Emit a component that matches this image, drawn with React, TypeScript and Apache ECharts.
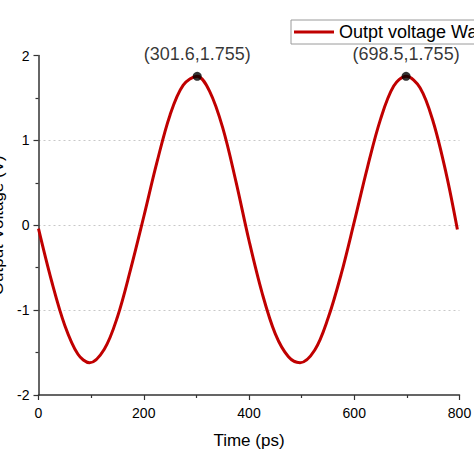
import React, { useEffect, useRef } from "react";
import * as echarts from "echarts";

// Sampled waveform: time (ps) and output voltage (V)
const timePs = [
  0, 25, 50, 75, 97, 125, 150, 175, 200, 225, 250, 275, 301.6, 325, 350, 375,
  400, 425, 450, 475, 497, 525, 550, 575, 600, 625, 650, 675, 698.5, 725, 750,
  775, 796,
];
const voltage = [
  -0.04, -0.66, -1.18, -1.52, -1.62, -1.46, -1.08, -0.52, 0.1, 0.74, 1.3, 1.65,
  1.755, 1.58, 1.15, 0.52, -0.18, -0.8, -1.28, -1.55, -1.62, -1.47, -1.1, -0.58,
  0.04, 0.68, 1.25, 1.64, 1.755, 1.62, 1.22, 0.6, -0.05,
];

// Marked peaks
const peakTimes = [301.6, 698.5];
const peakValues = [1.755, 1.755];

const xTicks = { min: 0, max: 800, interval: 200 };
const yTicks = { min: -2, max: 2, interval: 1 };

const seriesName = "Outpt voltage Waveform";
const xName = "Time (ps)";
const yName = "Output Voltage (V)";

const FONT = "Liberation Sans, Arial, sans-serif";
const INK = "#000";

export default function App() {
  const ref = useRef<HTMLDivElement>(null);

  useEffect(() => {
    if (!ref.current) return;
    const chart = echarts.init(ref.current, undefined, { renderer: "svg" });
    const lineData = timePs.map((t, i) => [t, voltage[i]]);
    const peakData = peakTimes.map((t, i) => [t, peakValues[i]]);

    const axisCommon = {
      axisLine: { show: true, onZero: false, lineStyle: { color: "#333", width: 1.5 } },
      axisTick: { show: true, inside: false, length: 5, lineStyle: { color: "#333", width: 1.2 } },
      minorTick: { show: true, splitNumber: 2, length: 3, lineStyle: { color: "#333", width: 1.2 } },
      axisLabel: { color: INK, fontFamily: FONT, fontSize: 14 },
      nameTextStyle: { color: INK, fontFamily: FONT, fontSize: 17 },
    };

    chart.setOption({
      animation: false,
      backgroundColor: "#fff",
      grid: {
        left: 38.5,
        right: 14.5,
        top: 55.5,
        bottom: 79,
        containLabel: false,
        outerBoundsMode: "none",
      },
      legend: {
        show: true,
        left: 291,
        top: 20,
        padding: [3, 3],
        borderColor: "#9a9a9a",
        borderWidth: 1,
        itemWidth: 40,
        itemHeight: 3,
        itemGap: 5,
        textStyle: { color: INK, fontFamily: FONT, fontSize: 18 },
        data: [{ name: seriesName, icon: "rect" }],
      },
      xAxis: {
        type: "value",
        ...xTicks,
        name: xName,
        nameLocation: "middle",
        nameGap: 37,
        ...axisCommon,
        axisLabel: { ...axisCommon.axisLabel, margin: 11 },
        splitLine: { show: false },
      },
      yAxis: {
        type: "value",
        ...yTicks,
        name: yName,
        nameLocation: "middle",
        nameGap: 28,
        ...axisCommon,
        axisLabel: { ...axisCommon.axisLabel, margin: 9 },
        splitLine: {
          show: true,
          showMinLine: false,
          showMaxLine: false,
          lineStyle: { color: "#c8c8c8", type: [2, 3], width: 1 },
        },
      },
      series: [
        {
          name: seriesName,
          type: "line",
          data: lineData,
          smooth: 0.35,
          symbol: "none",
          lineStyle: { color: "#c00000", width: 3 },
          itemStyle: { color: "#c00000" },
          z: 2,
        },
        {
          name: "peaks",
          type: "scatter",
          data: peakData,
          symbol: "circle",
          symbolSize: 9,
          itemStyle: { color: "#000" },
          z: 3,
          label: {
            show: true,
            position: "top",
            distance: 9,
            color: INK,
            fontFamily: FONT,
            fontSize: 18,
            formatter: (p: any) => `(${p.value[0]},${p.value[1]})`,
          },
        },
      ],
    });

    return () => chart.dispose();
  }, []);

  return (
    <div
      ref={ref}
      style={{ position: "fixed", left: 0, top: 0, width: 474, height: 474 }}
    />
  );
}
